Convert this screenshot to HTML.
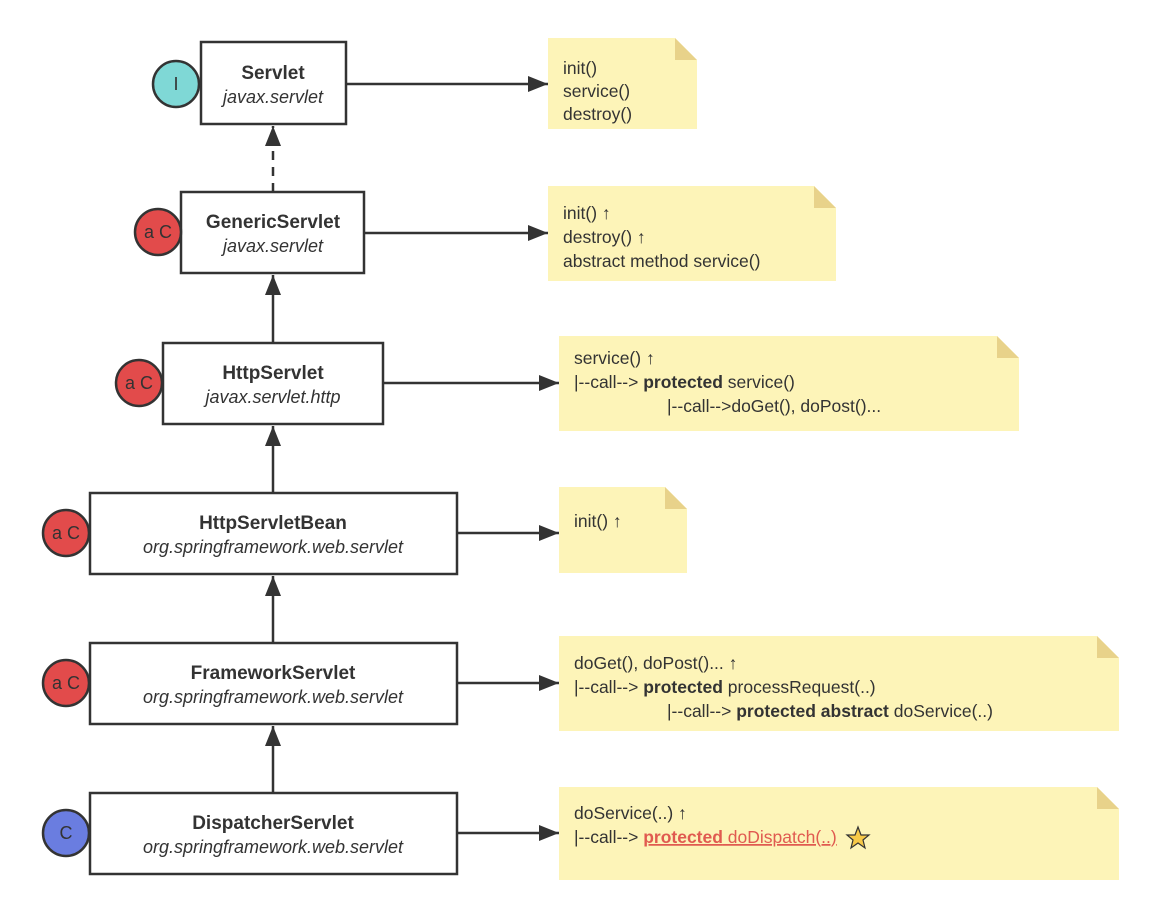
<!DOCTYPE html>
<html><head><meta charset="utf-8"><style>
html,body{margin:0;padding:0;background:#fff;width:1156px;height:918px;overflow:hidden}
text{font-family:"Liberation Sans",sans-serif;fill:#333}
.t{font-size:19px;font-weight:bold;text-anchor:middle}
.s{font-size:18px;font-style:italic;text-anchor:middle}
.n{font-size:17.5px}
.b{font-weight:bold}
.c{font-size:18px;text-anchor:middle}
</style></head><body>
<svg width="1156" height="918" xmlns="http://www.w3.org/2000/svg">
<defs>
<marker id="au" markerWidth="22" markerHeight="18" refX="20" refY="8" orient="auto" markerUnits="userSpaceOnUse">
<path d="M0,0 L20,8 L0,16 z" fill="#333"/></marker>
</defs>
<g stroke="#333" stroke-width="2.5" fill="none">
<line x1="273" y1="192" x2="273" y2="126" stroke-dasharray="9,7" marker-end="url(#au)"/>
<line x1="273" y1="343" x2="273" y2="275" marker-end="url(#au)"/>
<line x1="273" y1="493" x2="273" y2="426" marker-end="url(#au)"/>
<line x1="273" y1="643" x2="273" y2="576" marker-end="url(#au)"/>
<line x1="273" y1="793" x2="273" y2="726" marker-end="url(#au)"/>
<line x1="346" y1="84" x2="548" y2="84" marker-end="url(#au)"/>
<line x1="364" y1="233" x2="548" y2="233" marker-end="url(#au)"/>
<line x1="383" y1="383" x2="559" y2="383" marker-end="url(#au)"/>
<line x1="457" y1="533" x2="559" y2="533" marker-end="url(#au)"/>
<line x1="457" y1="683" x2="559" y2="683" marker-end="url(#au)"/>
<line x1="457" y1="833" x2="559" y2="833" marker-end="url(#au)"/>
</g>
<g fill="#fdf4b8">
<path d="M548,38 H675 L697,60 V129 H548 Z"/>
<path d="M548,186 H814 L836,208 V281 H548 Z"/>
<path d="M559,336 H997 L1019,358 V431 H559 Z"/>
<path d="M559,487 H665 L687,509 V573 H559 Z"/>
<path d="M559,636 H1097 L1119,658 V731 H559 Z"/>
<path d="M559,787 H1097 L1119,809 V880 H559 Z"/>
</g>
<g fill="#e8d28a">
<path d="M675,38 L697,60 H675 Z"/>
<path d="M814,186 L836,208 H814 Z"/>
<path d="M997,336 L1019,358 H997 Z"/>
<path d="M665,487 L687,509 H665 Z"/>
<path d="M1097,636 L1119,658 H1097 Z"/>
<path d="M1097,787 L1119,809 H1097 Z"/>
</g>
<g fill="#fff" stroke="#333" stroke-width="2.5">
<rect x="201" y="42" width="145" height="82"/>
<rect x="181" y="192" width="183" height="81"/>
<rect x="163" y="343" width="220" height="81"/>
<rect x="90" y="493" width="367" height="81"/>
<rect x="90" y="643" width="367" height="81"/>
<rect x="90" y="793" width="367" height="81"/>
</g>
<g stroke="#333" stroke-width="2.5">
<circle cx="176" cy="84" r="23" fill="#7fd8d6"/>
<circle cx="158" cy="232" r="23" fill="#e24b4b"/>
<circle cx="139" cy="383" r="23" fill="#e24b4b"/>
<circle cx="66" cy="533" r="23" fill="#e24b4b"/>
<circle cx="66" cy="683" r="23" fill="#e24b4b"/>
<circle cx="66" cy="833" r="23" fill="#6a7de0"/>
</g>
<text class="c" x="176" y="90">I</text>
<text class="c" x="158" y="238">a C</text>
<text class="c" x="139" y="389">a C</text>
<text class="c" x="66" y="539">a C</text>
<text class="c" x="66" y="689">a C</text>
<text class="c" x="66" y="839">C</text>

<text class="t" x="273" y="79">Servlet</text><text class="s" x="273" y="103">javax.servlet</text>
<text class="t" x="273" y="228">GenericServlet</text><text class="s" x="273" y="252">javax.servlet</text>
<text class="t" x="273" y="379">HttpServlet</text><text class="s" x="273" y="403">javax.servlet.http</text>
<text class="t" x="273" y="529">HttpServletBean</text><text class="s" x="273" y="553">org.springframework.web.servlet</text>
<text class="t" x="273" y="679">FrameworkServlet</text><text class="s" x="273" y="703">org.springframework.web.servlet</text>
<text class="t" x="273" y="829">DispatcherServlet</text><text class="s" x="273" y="853">org.springframework.web.servlet</text>

<text class="n" x="563" y="74">init()</text>
<text class="n" x="563" y="97">service()</text>
<text class="n" x="563" y="120">destroy()</text>

<text class="n" x="563" y="219">init() ↑</text>
<text class="n" x="563" y="243">destroy() ↑</text>
<text class="n" x="563" y="267">abstract method service()</text>

<text class="n" x="574" y="364">service() ↑</text>
<text class="n" x="574" y="388">|--call--&gt; <tspan class="b">protected</tspan> service()</text>
<text class="n" x="667" y="412">|--call--&gt;doGet(), doPost()...</text>

<text class="n" x="574" y="527">init() ↑</text>

<text class="n" x="574" y="669">doGet(), doPost()... ↑</text>
<text class="n" x="574" y="693">|--call--&gt; <tspan class="b">protected</tspan> processRequest(..)</text>
<text class="n" x="667" y="717">|--call--&gt; <tspan class="b">protected abstract</tspan> doService(..)</text>

<text class="n" x="574" y="819">doService(..) ↑</text>
<text class="n" x="574" y="843">|--call--&gt; <tspan class="b" style="fill:#e05a50;text-decoration:underline">protected</tspan><tspan style="fill:#e05a50;text-decoration:underline"> doDispatch(..)</tspan></text>
<path d="M858,827 L861,835 L869,835 L863,840 L865,848 L858,843 L851,848 L853,840 L847,835 L855,835 Z" fill="#f7c948" stroke="#333" stroke-width="1.2"/>
</svg>
</body></html>
